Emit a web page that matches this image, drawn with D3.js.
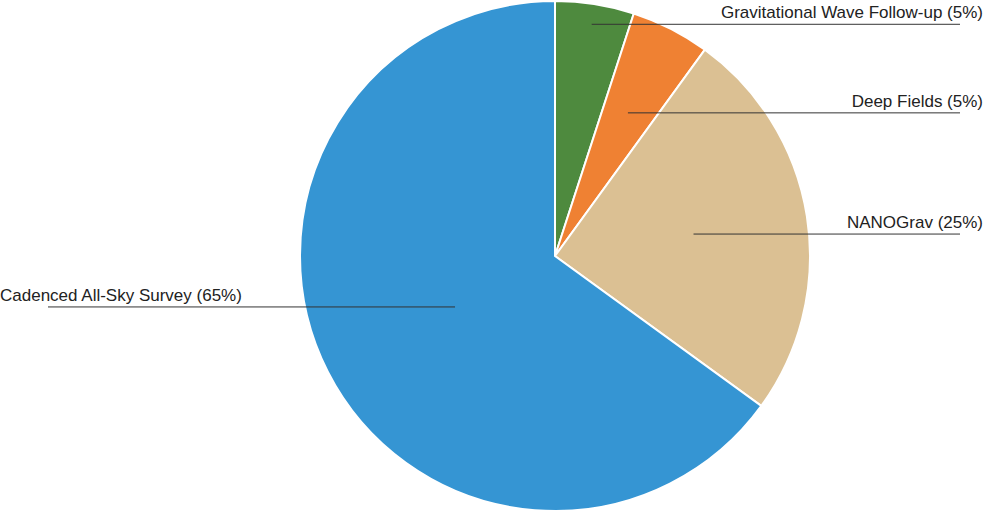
<!DOCTYPE html>
<html><head><meta charset="utf-8">
<script src="https://cdn.jsdelivr.net/npm/d3@7"></script>
<style>body{margin:0;background:#fff}</style>
</head><body>
<div id="chart"></div>
<script>
// Slice names, shares and colours, clockwise from 12 o'clock
const categories = ["Gravitational Wave Follow-up", "Deep Fields", "NANOGrav", "Cadenced All-Sky Survey"];
const shares = [5, 5, 25, 65];
const colors = ["#4e8a3e", "#ef8133", "#dbc093", "#3595d3"];
const labelRadius = [0.92, 0.63, 0.55, 0.44];

const width = 1000, height = 513;
const radius = 255;
const cx = 555, cy = 256;

const svg = d3.select("#chart").append("svg")
  .attr("width", width).attr("height", height);

const g = svg.append("g").attr("transform", "translate(" + cx + "," + cy + ")");

const data = categories.map((c, i) => ({ name: c, value: shares[i], color: colors[i], lr: labelRadius[i] }));

const pie = d3.pie().value(d => d.value).sort(null);
const arc = d3.arc().innerRadius(0).outerRadius(radius);
const arcs = pie(data);

g.selectAll("path")
  .data(arcs)
  .enter().append("path")
  .attr("d", arc)
  .attr("fill", d => d.data.color)
  .attr("stroke", "#fff")
  .attr("stroke-width", 2);

// Leader lines and labels
arcs.forEach(d => {
  const mid = (d.startAngle + d.endAngle) / 2;
  const r = radius * d.data.lr;
  const x0 = Math.sin(mid) * r, y0 = -Math.cos(mid) * r;
  const right = Math.sin(mid) >= 0;
  const x1 = right ? width - cx - 40 : -cx + 48;
  g.append("line")
    .attr("x1", x0).attr("y1", y0).attr("x2", x1).attr("y2", y0)
    .attr("stroke", "#333").attr("stroke-width", 1);
  g.append("text")
    .attr("x", right ? width - cx - 17 : -cx)
    .attr("y", y0 - 6)
    .attr("text-anchor", right ? "end" : "start")
    .attr("font-family", "Liberation Sans, Arial, sans-serif")
    .attr("font-size", 17)
    .attr("fill", "#222")
    .text(d.data.name + " (" + d.data.value + "%)");
});
</script>
</body></html>
